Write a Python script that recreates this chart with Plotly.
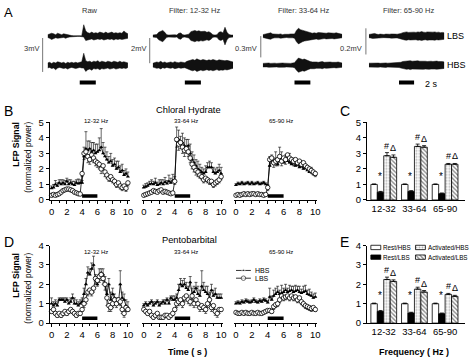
import plotly.graph_objects as go

W, H = 474, 363
FONT = "Liberation Sans, Arial, sans-serif"
TXT = "#000000"

# ---------------- shared sampling grid (s) ----------------
time_s = [round(0.25 * i, 2) for i in range(41)]
stim_s = [4.0, 6.0]

# ---------------- Panel A: trace envelopes (mV) ----------------
raw_lbs_up = [0.12,0.18,0.25,0.2,0.12,0.25,0.18,0.12,0.2,0.15,0.12,0.08,0.04,0.03,0.03,0.03,0.03,0.03,1.0,0.45,
              0.3,0.25,0.35,0.25,0.3,0.25,0.35,0.3,0.25,0.35,0.25,0.3,0.35,0.25,0.3,0.25,0.3,0.25,0.45,0.3,0.2]
raw_lbs_dn = [0.12,0.2,0.3,0.25,0.15,0.2,0.15,0.15,0.12,0.2,0.12,0.08,0.04,0.03,0.03,0.03,0.03,0.03,0.08,0.4,
              0.35,0.3,0.25,0.35,0.3,0.25,0.3,0.25,0.35,0.3,0.25,0.3,0.25,0.35,0.25,0.3,0.25,0.3,0.25,0.25,0.2]
raw_hbs_up = [0.2,0.25,0.15,0.25,0.2,0.3,0.25,0.2,0.25,0.15,0.25,0.2,0.25,0.2,0.25,0.2,0.25,0.3,1.05,0.4,
              0.3,0.35,0.25,0.35,0.3,0.4,0.25,0.35,0.3,0.25,0.35,0.3,0.25,0.35,0.3,0.25,0.35,0.25,0.3,0.25,0.2]
raw_hbs_dn = [0.25,0.2,0.3,0.25,0.4,0.25,0.2,0.25,0.3,0.25,0.35,0.25,0.2,0.25,0.3,0.25,0.2,0.25,0.25,0.55,
              0.4,0.35,0.45,0.3,0.35,0.3,0.4,0.3,0.35,0.3,0.25,0.35,0.3,0.25,0.35,0.3,0.25,0.3,0.25,0.3,0.2]
f1232_lbs = [0.08,0.1,0.12,0.3,0.38,0.45,0.3,0.1,0.08,0.1,0.08,0.1,0.08,0.22,0.25,0.1,0.08,0.1,0.15,0.35,
             0.4,0.45,0.38,0.42,0.36,0.4,0.38,0.3,0.35,0.25,0.1,0.08,0.1,0.3,0.35,0.25,0.7,0.3,0.12,0.08,0.08]
f1232_hbs = [0.15,0.2,0.25,0.22,0.3,0.2,0.25,0.18,0.22,0.25,0.2,0.28,0.22,0.2,0.25,0.22,0.2,0.3,0.35,0.4,
             0.45,0.38,0.5,0.42,0.38,0.45,0.4,0.36,0.42,0.38,0.45,0.4,0.35,0.42,0.38,0.4,0.35,0.38,0.32,0.3,0.25]
f3364_lbs = [0.02,0.025,0.03,0.04,0.045,0.03,0.025,0.02,0.025,0.03,0.02,0.025,0.02,0.025,0.03,0.025,0.03,0.08,0.11,0.09,
             0.08,0.07,0.06,0.05,0.045,0.04,0.045,0.04,0.05,0.045,0.04,0.035,0.04,0.045,0.04,0.035,0.04,0.045,0.035,0.03,0.025]
f3364_hbs = [0.025,0.03,0.025,0.03,0.025,0.03,0.028,0.025,0.03,0.025,0.03,0.028,0.025,0.03,0.025,0.03,0.035,0.07,0.1,0.09,
             0.08,0.085,0.07,0.06,0.05,0.045,0.05,0.045,0.04,0.045,0.05,0.04,0.045,0.04,0.045,0.04,0.035,0.04,0.045,0.035,0.03]
f6590_lbs = [0.012,0.015,0.018,0.02,0.015,0.012,0.015,0.013,0.012,0.015,0.012,0.014,0.016,0.018,0.015,0.014,0.016,0.02,0.026,0.03,
             0.032,0.028,0.03,0.033,0.03,0.028,0.032,0.03,0.034,0.03,0.028,0.032,0.03,0.028,0.03,0.032,0.028,0.03,0.026,0.028,0.025]
f6590_hbs = [0.015,0.016,0.014,0.017,0.015,0.016,0.014,0.016,0.015,0.017,0.015,0.016,0.014,0.016,0.015,0.017,0.018,0.022,0.028,0.03,
             0.032,0.03,0.034,0.03,0.032,0.03,0.033,0.03,0.031,0.032,0.03,0.028,0.032,0.03,0.028,0.03,0.031,0.028,0.03,0.027,0.025]

# ---------------- Panel B: chloral hydrate time courses (normalized power) ----------------
chl_1232_hbs = [0.75,0.8,1.0,0.9,1.1,1.0,1.1,1.0,1.2,1.0,1.1,1.0,0.95,1.1,1.05,1.1,1.1,2.8,3.3,3.2,
                3.3,3.1,3.2,3.0,3.1,3.2,3.4,3.0,2.8,2.6,2.4,2.5,2.2,2.3,2.0,2.1,1.8,1.9,1.6,1.7,1.5]
chl_1232_hbs_err = [0.15,0.2,0.25,0.2,0.2,0.3,0.2,0.25,0.2,0.3,0.2,0.2,0.25,0.2,0.3,0.2,0.15,0.6,1.1,0.6,
                    0.5,0.6,0.5,0.6,0.5,0.8,1.2,0.7,0.6,0.5,0.4,0.5,0.4,0.4,0.5,0.4,0.4,0.4,0.3,0.3,0.3]
chl_1232_lbs = [0.3,0.35,0.3,0.35,0.4,0.5,0.6,0.65,0.7,0.7,0.65,0.6,0.5,0.45,0.4,0.38,1.7,3.0,3.1,2.8,
                2.6,2.9,2.7,2.5,2.4,2.3,2.0,2.2,1.8,1.6,1.4,1.5,1.3,1.2,1.0,1.1,0.9,0.8,0.9,0.75,1.1]
chl_1232_lbs_err = [0.05,0.05,0.05,0.05,0.1,0.1,0.1,0.1,0.1,0.1,0.1,0.1,0.1,0.05,0.05,0.05,0.2,0.4,0.4,0.4,
                    0.3,0.4,0.3,0.3,0.3,0.3,0.3,0.3,0.3,0.2,0.2,0.3,0.2,0.2,0.2,0.2,0.2,0.2,0.2,0.2,0.2]
chl_3364_hbs = [0.8,0.85,0.9,1.0,1.05,1.0,1.1,0.95,1.0,1.1,1.0,1.15,1.05,1.2,1.1,1.25,1.2,3.8,3.9,3.6,
                3.7,3.5,3.4,3.5,3.0,2.6,2.4,2.2,2.0,1.9,1.8,1.7,1.8,2.1,2.1,2.1,1.8,1.7,1.8,1.9,1.7]
chl_3364_hbs_err = [0.15,0.2,0.2,0.2,0.25,0.2,0.3,0.2,0.3,0.2,0.3,0.3,0.2,0.4,0.3,0.4,0.3,0.9,0.6,0.5,
                    0.6,0.5,0.5,0.4,0.6,0.5,0.5,0.4,0.5,0.4,0.3,0.3,0.4,0.3,0.4,0.3,0.3,0.3,0.3,0.4,0.4]
chl_3364_lbs = [0.3,0.35,0.4,0.45,0.5,0.6,0.55,0.5,0.6,0.65,0.5,0.55,0.5,0.45,0.4,0.45,1.2,3.9,3.6,3.7,
                3.4,3.2,3.3,3.1,2.7,2.3,2.1,1.9,1.8,1.6,1.5,1.3,1.4,1.3,1.2,1.2,1.0,1.1,1.2,1.3,1.5]
chl_3364_lbs_err = [0.05,0.05,0.1,0.1,0.1,0.1,0.1,0.1,0.1,0.1,0.1,0.1,0.1,0.1,0.05,0.05,0.2,0.5,0.4,0.4,
                    0.4,0.4,0.3,0.3,0.3,0.3,0.3,0.3,0.3,0.2,0.2,0.2,0.2,0.2,0.2,0.2,0.2,0.2,0.2,0.2,0.2]
chl_6590_hbs = [0.95,1.05,1.0,1.1,1.0,1.05,1.1,1.0,1.1,1.0,1.05,1.1,1.0,1.05,1.1,1.0,0.9,2.2,2.5,2.4,
                2.6,2.3,2.5,2.7,2.4,2.6,2.5,2.4,2.3,2.4,2.2,2.3,2.1,2.2,2.0,2.1,1.9,1.8,1.9,1.7,1.6]
chl_6590_hbs_err = [0.1,0.1,0.1,0.1,0.1,0.1,0.1,0.1,0.1,0.1,0.1,0.1,0.1,0.1,0.1,0.1,0.1,0.6,0.4,0.3,
                    0.5,0.4,0.9,0.4,0.4,0.3,0.4,0.6,0.3,0.3,0.3,0.2,0.3,0.2,0.3,0.2,0.2,0.3,0.2,0.2,0.2]
chl_6590_lbs = [0.3,0.35,0.3,0.35,0.4,0.35,0.4,0.35,0.4,0.4,0.35,0.4,0.35,0.35,0.3,0.35,0.8,2.6,2.7,2.4,
                2.5,2.6,2.8,2.5,2.7,2.6,2.9,2.7,2.6,2.5,2.6,2.4,2.5,2.3,2.4,2.2,2.1,2.0,1.9,1.8,1.7]
chl_6590_lbs_err = [0.05,0.05,0.05,0.05,0.05,0.05,0.05,0.05,0.05,0.05,0.05,0.05,0.05,0.05,0.05,0.05,0.2,0.4,0.3,0.3,
                    0.3,0.4,0.3,0.3,0.3,0.3,0.3,0.3,0.3,0.3,0.3,0.2,0.3,0.2,0.3,0.2,0.2,0.2,0.2,0.2,0.2]

# ---------------- Panel D: pentobarbital time courses ----------------
pen_1232_hbs = [1.0,0.9,1.0,0.9,1.2,1.2,1.2,1.1,1.2,1.0,1.1,1.3,1.0,1.0,0.9,1.0,1.1,1.5,2.0,2.6,
                2.5,2.8,3.0,2.2,2.0,2.5,2.6,2.5,2.0,1.5,2.0,1.2,1.5,1.3,1.1,1.0,2.0,1.3,1.2,0.9,0.8]
pen_1232_hbs_err = [0.3,0.2,0.2,0.2,0.1,0.1,0.1,0.2,0.1,0.2,0.2,0.2,0.3,0.2,0.2,0.2,0.2,0.3,0.3,0.3,
                    0.3,0.3,0.45,0.3,0.3,0.3,0.2,0.3,0.4,0.4,0.3,0.4,0.3,0.2,0.2,0.3,0.7,0.3,0.3,0.3,0.3]
pen_1232_lbs = [0.6,0.7,0.5,0.4,0.5,0.4,0.5,0.6,0.5,0.6,0.7,0.6,0.5,0.4,0.5,0.5,0.7,1.0,1.2,1.6,
                1.7,1.6,1.8,2.3,2.2,2.4,2.5,2.3,2.0,1.3,0.9,0.8,1.0,1.2,1.0,1.2,1.1,0.7,0.5,0.8,0.7]
pen_1232_lbs_err = [0.1,0.1,0.1,0.1,0.1,0.1,0.1,0.1,0.1,0.1,0.1,0.1,0.1,0.1,0.1,0.1,0.1,0.2,0.2,0.2,
                    0.2,0.2,0.2,0.3,0.3,0.3,0.3,0.3,0.3,0.4,0.3,0.2,0.2,0.3,0.2,0.2,0.2,0.2,0.2,0.2,0.1]
pen_3364_hbs = [0.9,1.0,0.9,1.0,1.1,0.9,1.0,1.1,0.9,1.0,1.1,1.0,1.2,1.0,1.3,1.2,1.2,1.3,1.7,2.0,
                1.9,2.0,1.8,1.7,2.1,1.5,1.6,1.8,1.5,1.4,1.9,1.7,1.6,1.5,1.3,1.7,1.4,1.5,1.3,1.3,1.3]
pen_3364_hbs_err = [0.1,0.1,0.1,0.1,0.1,0.2,0.1,0.1,0.2,0.1,0.1,0.2,0.1,0.2,0.1,0.2,0.2,0.2,0.3,0.3,
                    0.3,0.3,0.3,0.2,0.3,0.3,0.3,0.3,0.4,0.3,0.8,0.4,0.3,0.4,0.3,0.3,0.3,0.3,0.2,0.2,0.2]
pen_3364_lbs = [0.7,0.6,0.5,0.6,0.4,0.3,0.4,0.5,0.3,0.3,0.3,0.4,0.4,0.3,0.4,0.5,0.7,1.0,1.1,1.2,
                1.0,1.3,1.4,1.2,1.1,1.4,1.0,1.2,1.0,0.8,0.9,0.8,0.7,1.0,1.2,0.8,0.9,0.6,0.5,0.7,0.7]
pen_3364_lbs_err = [0.1,0.1,0.1,0.1,0.1,0.1,0.1,0.1,0.1,0.1,0.1,0.1,0.1,0.1,0.1,0.1,0.1,0.2,0.2,0.2,
                    0.2,0.2,0.2,0.2,0.2,0.2,0.2,0.2,0.2,0.2,0.2,0.2,0.2,0.2,0.2,0.2,0.2,0.2,0.2,0.2,0.1]
pen_6590_hbs = [1.0,1.05,1.0,1.1,1.05,1.15,1.1,1.05,1.1,1.2,1.1,1.05,1.15,1.1,1.2,1.15,1.05,1.35,1.2,1.4,
                1.5,1.6,1.5,1.55,1.6,1.7,1.6,1.65,1.7,1.6,1.65,1.7,1.6,1.55,1.6,1.65,1.5,1.45,1.4,1.3,1.35]
pen_6590_hbs_err = [0.1,0.1,0.1,0.1,0.1,0.1,0.1,0.1,0.1,0.1,0.1,0.1,0.1,0.1,0.1,0.1,0.1,0.45,0.2,0.3,
                    0.3,0.3,0.2,0.4,0.2,0.3,0.2,0.3,0.2,0.3,0.3,0.2,0.3,0.2,0.3,0.3,0.2,0.3,0.2,0.2,0.2]
pen_6590_lbs = [0.55,0.5,0.5,0.55,0.5,0.55,0.5,0.5,0.55,0.5,0.5,0.55,0.5,0.5,0.55,0.6,0.65,0.65,0.6,0.85,
                0.95,1.0,1.2,1.4,1.3,1.35,1.4,1.3,1.4,1.3,1.35,1.2,1.3,1.1,1.0,0.9,0.85,0.8,0.75,0.8,0.7]
pen_6590_lbs_err = [0.05,0.05,0.05,0.05,0.05,0.05,0.05,0.05,0.05,0.05,0.05,0.05,0.05,0.05,0.05,0.05,0.1,0.1,0.1,0.15,
                    0.15,0.15,0.15,0.15,0.15,0.15,0.15,0.15,0.15,0.15,0.15,0.15,0.15,0.15,0.15,0.15,0.15,0.15,0.15,0.15,0.1]

# ---------------- Panels C / E: group means ----------------
freq_bands = ["12-32", "33-64", "65-90"]
chl_rest_hbs = [1.0, 1.0, 1.0]
chl_rest_lbs = [0.5, 0.55, 0.4]
chl_act_hbs = [2.85, 3.45, 2.3]
chl_act_lbs = [2.75, 3.4, 2.3]
chl_rest_hbs_err = [0.03, 0.03, 0.03]
chl_rest_lbs_err = [0.05, 0.05, 0.05]
chl_act_hbs_err = [0.2, 0.15, 0.05]
chl_act_lbs_err = [0.15, 0.1, 0.05]
pen_rest_hbs = [1.0, 1.0, 1.0]
pen_rest_lbs = [0.6, 0.52, 0.48]
pen_act_hbs = [2.25, 1.75, 1.48]
pen_act_lbs = [2.15, 1.6, 1.38]
pen_rest_hbs_err = [0.03, 0.03, 0.03]
pen_rest_lbs_err = [0.05, 0.04, 0.04]
pen_act_hbs_err = [0.12, 0.1, 0.05]
pen_act_lbs_err = [0.08, 0.08, 0.05]

# ======================================================================
def dom_x(a, b):
    return [a / W, b / W]

def dom_y(top, bottom):
    return [1 - bottom / H, 1 - top / H]

fig = go.Figure()
layout = dict(width=W, height=H, margin=dict(l=0, r=0, t=0, b=0), autosize=False,
              paper_bgcolor="white", plot_bgcolor="rgba(0,0,0,0)", showlegend=False,
              barmode="group", bargap=0.16, bargroupgap=0, hovermode=False,
              font=dict(family=FONT, size=9, color=TXT))
shapes = []
annotations = []

def ann(text, x, y, size, xanchor="center", yanchor="middle", angle=0, color=TXT):
    annotations.append(dict(text=text, x=x / W, y=1 - y / H, xref="paper", yref="paper",
                            showarrow=False, xanchor=xanchor, yanchor=yanchor, textangle=angle,
                            font=dict(size=size, color=color, family=FONT)))

# ---------------- Panel A ----------------
A_TOP, A_BOT = 14, 82
A_cols = [
    # title, x0, x1, scale mV, scale px, bar x, bar top, label, lbs up, lbs dn, hbs up, hbs dn
    ("Raw", 47, 128, 3, 35, 42, 33, "3mV", raw_lbs_up, raw_lbs_dn, raw_hbs_up, raw_hbs_dn),
    ("Filter: 12-32 Hz", 153, 234, 2, 26, 150, 33, "2mV", f1232_lbs, f1232_lbs, f1232_hbs, f1232_hbs),
    ("Filter: 33-64 Hz", 264, 344, 0.3, 22, 262, 31, "0.3mV", f3364_lbs, f3364_lbs, f3364_hbs, f3364_hbs),
    ("Filter: 65-90 Hz", 371, 447, 0.2, 27, 368, 23, "0.2mV", f6590_lbs, f6590_lbs, f6590_hbs, f6590_hbs),
]
for i, (title, x0, x1, smv, spx, bx, btop, lab, lu, ld, hu, hd) in enumerate(A_cols):
    k = i + 1
    ppm = spx / smv
    layout[f"xaxis{k}"] = dict(domain=dom_x(x0, x1), range=[0, 10], visible=False, anchor=f"y{k}")
    layout[f"yaxis{k}"] = dict(domain=dom_y(A_TOP, A_BOT), range=[0, (A_BOT - A_TOP) / ppm],
                               visible=False, anchor=f"x{k}")
    for center_px, up, dn in ((31, lu, ld), (61, hu, hd)):
        c = (A_BOT - center_px) / ppm
        xs = time_s + time_s[::-1]
        ys = [c + u for u in up] + [c - d for d in dn][::-1]
        fig.add_trace(go.Scatter(x=xs, y=ys, mode="lines", fill="toself", fillcolor="#111",
                                 line=dict(color="#111", width=0.5), xaxis=f"x{k}", yaxis=f"y{k}",
                                 hoverinfo="skip"))
    bar_y = (A_BOT - 79) / ppm
    fig.add_trace(go.Scatter(x=stim_s, y=[bar_y, bar_y], mode="lines", line=dict(color="black", width=4),
                             xaxis=f"x{k}", yaxis=f"y{k}", hoverinfo="skip"))
    shapes.append(dict(type="line", xref="paper", yref="paper", x0=bx / W, x1=bx / W,
                       y0=1 - btop / H, y1=1 - (btop + spx) / H, line=dict(color="#777", width=1)))
    ann(lab, bx - 2, 44, 7.5, xanchor="right", color="#333")
    ann(title, (x0 + x1) / 2 + 2, 4.5, 7.5, color="#333")

ann("LBS", 448, 31, 9, xanchor="left")
ann("HBS", 448, 61, 9, xanchor="left")
ann("2 s", 426, 80, 9, xanchor="left")

# ---------------- Panels B and D ----------------
tick_font = dict(size=9.5, family=FONT, color=TXT)
col_px = [(51, 128), (144, 222), (237, 317)]
tc_sets = [
    # first axis index, top px, bottom px, ymax, series
    (5, 120, 200, 5, [(chl_1232_hbs, chl_1232_hbs_err, chl_1232_lbs, chl_1232_lbs_err),
                      (chl_3364_hbs, chl_3364_hbs_err, chl_3364_lbs, chl_3364_lbs_err),
                      (chl_6590_hbs, chl_6590_hbs_err, chl_6590_lbs, chl_6590_lbs_err)]),
    (9, 247, 327, 4, [(pen_1232_hbs, pen_1232_hbs_err, pen_1232_lbs, pen_1232_lbs_err),
                      (pen_3364_hbs, pen_3364_hbs_err, pen_3364_lbs, pen_3364_lbs_err),
                      (pen_6590_hbs, pen_6590_hbs_err, pen_6590_lbs, pen_6590_lbs_err)]),
]
zeros = [0] * len(time_s)
for k0, top, bot, ymax, series in tc_sets:
    for j, (hbs, hbs_e, lbs, lbs_e) in enumerate(series):
        k = k0 + j
        x0, x10 = col_px[j]
        pps = (x10 - x0) / 10
        layout[f"xaxis{k}"] = dict(domain=dom_x(x0 - 0.25 * pps, x10 + 0.25 * pps), range=[-0.25, 10.25],
                                   anchor=f"y{k}", showline=True, linecolor="black", linewidth=1,
                                   ticks="outside", ticklen=3, tickwidth=1, tickcolor="black",
                                   tickmode="linear", tick0=0, dtick=2, tickfont=tick_font,
                                   showgrid=False, zeroline=False,
                                   minor=dict(ticks="outside", ticklen=2, dtick=1, tick0=0,
                                              tickcolor="black", showgrid=False))
        ya = dict(domain=dom_y(top, bot), range=[0, ymax], anchor=f"x{k}", showgrid=False, zeroline=False)
        if j == 0:
            ya.update(showline=True, linecolor="black", linewidth=1, ticks="outside", ticklen=3,
                      tickcolor="black", tickmode="linear", tick0=0, dtick=1, tickfont=tick_font)
        else:
            ya.update(visible=False)
        layout[f"yaxis{k}"] = ya
        fig.add_trace(go.Scatter(x=time_s, y=hbs, mode="lines+markers", cliponaxis=False,
                                 line=dict(color="black", width=0.8),
                                 marker=dict(symbol="triangle-up", size=3.5, color="black"),
                                 error_y=dict(type="data", symmetric=False, array=hbs_e, arrayminus=zeros,
                                              color="black", thickness=0.6, width=1.5),
                                 xaxis=f"x{k}", yaxis=f"y{k}", hoverinfo="skip"))
        fig.add_trace(go.Scatter(x=time_s, y=lbs, mode="lines+markers", cliponaxis=False,
                                 line=dict(color="black", width=0.8),
                                 marker=dict(symbol="circle", size=4.5, color="white",
                                             line=dict(color="black", width=0.8)),
                                 error_y=dict(type="data", symmetric=False, array=zeros, arrayminus=lbs_e,
                                              color="black", thickness=0.6, width=1.5),
                                 xaxis=f"x{k}", yaxis=f"y{k}", hoverinfo="skip"))
        fig.add_trace(go.Scatter(x=stim_s, y=[0.25, 0.25], mode="lines", line=dict(color="black", width=3.5),
                                 xaxis=f"x{k}", yaxis=f"y{k}", hoverinfo="skip"))

# ---------------- Panels C and E ----------------
BW = (1 - 0.16) / 4
bar_sets = [
    (8, 120, 200, 5, chl_rest_hbs, chl_rest_lbs, chl_act_hbs, chl_act_lbs,
     chl_rest_hbs_err, chl_rest_lbs_err, chl_act_hbs_err, chl_act_lbs_err),
    (12, 247, 327, 4, pen_rest_hbs, pen_rest_lbs, pen_act_hbs, pen_act_lbs,
     pen_rest_hbs_err, pen_rest_lbs_err, pen_act_hbs_err, pen_act_lbs_err),
]
line_k = dict(color="black", width=0.8)
styles = [
    dict(color="white", line=line_k),
    dict(color="black", line=line_k),
    dict(color="white", line=line_k, pattern=dict(shape=".", fgcolor="#666", size=3, solidity=0.35)),
    dict(color="white", line=line_k, pattern=dict(shape="\\", fgcolor="#111", size=3, solidity=0.45)),
]
for k, top, bot, ymax, rh, rl, ah, al, rhe, rle, ahe, ale in bar_sets:
    layout[f"xaxis{k}"] = dict(domain=dom_x(369, 468), type="category", range=[-0.55, 2.65],
                               anchor=f"y{k}", showline=True, linecolor="black", linewidth=1,
                               ticks="", tickfont=tick_font, showgrid=False, zeroline=False)
    layout[f"yaxis{k}"] = dict(domain=dom_y(top, bot), range=[0, ymax], anchor=f"x{k}",
                               showline=True, linecolor="black", linewidth=1, ticks="outside", ticklen=3,
                               tickcolor="black", tickmode="linear", tick0=0, dtick=1,
                               tickfont=tick_font, showgrid=False, zeroline=False)
    for vals, errs, st in zip((rh, rl, ah, al), (rhe, rle, ahe, ale), styles):
        fig.add_trace(go.Bar(x=freq_bands, y=vals, marker=st, xaxis=f"x{k}", yaxis=f"y{k}",
                             error_y=dict(type="data", symmetric=False, array=errs, arrayminus=[0, 0, 0],
                                          color="black", thickness=0.8, width=2),
                             hoverinfo="skip"))
    for i in range(3):
        annotations.append(dict(text="*", x=i - 0.5 * BW - 0.03, y=rh[i] + rhe[i], xref=f"x{k}", yref=f"y{k}",
                                showarrow=False, yanchor="bottom", font=dict(size=10, family=FONT, color=TXT)))
        annotations.append(dict(text="#", x=i + 0.5 * BW, y=ah[i] + ahe[i], xref=f"x{k}", yref=f"y{k}",
                                showarrow=False, yanchor="bottom", font=dict(size=9, family=FONT, color=TXT)))
        annotations.append(dict(text="Δ", x=i + 1.5 * BW, y=al[i] + ale[i], xref=f"x{k}", yref=f"y{k}",
                                showarrow=False, yanchor="bottom", font=dict(size=9, family=FONT, color=TXT)))

# ---------------- overlay axis (pixel units) for legend keys ----------------
layout["xaxis13"] = dict(domain=[0, 1], range=[0, W], visible=False, anchor="y13")
layout["yaxis13"] = dict(domain=[0, 1], range=[H, 0], visible=False, anchor="x13")
leg_line_x = [237, 244.5, 252]
fig.add_trace(go.Scatter(x=leg_line_x, y=[272.7] * 3, mode="lines+markers", line=dict(color="black", width=0.8),
                         marker=dict(symbol="triangle-up", size=[0, 3.5, 0], color="black"),
                         xaxis="x13", yaxis="y13", hoverinfo="skip"))
fig.add_trace(go.Scatter(x=leg_line_x, y=[280.7] * 3, mode="lines+markers", line=dict(color="black", width=0.8),
                         marker=dict(symbol="circle", size=[0, 4.5, 0], color="white",
                                     line=dict(color="black", width=0.8)),
                         xaxis="x13", yaxis="y13", hoverinfo="skip"))
ann("HBS", 254, 272.7, 7, xanchor="left")
ann("LBS", 254, 280.7, 7, xanchor="left")
for (bx, by, st, lab) in ((373, 249, styles[0], "Rest/HBS"), (373, 259, styles[1], "Rest/LBS"),
                          (418, 249, styles[2], "Activated/HBS"), (418, 259, styles[3], "Activated/LBS")):
    fig.add_trace(go.Bar(x=[10], base=[bx], y=[by], orientation="h", width=[4.5], offset=[-2.25],
                         marker=st, xaxis="x13", yaxis="y13", hoverinfo="skip"))
    ann(lab, bx + 10.5, by, 6.3, xanchor="left")

# ---------------- text ----------------
ann("A", 1, 7, 13, xanchor="left")
ann("B", 1, 108, 14, xanchor="left")
ann("C", 340, 108, 14, xanchor="left")
ann("D", 1, 243, 14, xanchor="left")
ann("E", 340, 243, 14, xanchor="left")
ann("Chloral Hydrate", 189, 107, 9.3)
ann("Pentobarbital", 190, 241, 9.3)
for yy in (119, 254):
    ann("12-32 Hz", 96, yy, 6)
    ann("33-64 Hz", 187, yy, 6)
    ann("65-90 Hz", 282, yy, 6)
for top in (117, 252):
    ann("<b>LFP Signal</b>", 15, top, 8.7, yanchor="top", angle=-90)
    ann("(normalized power)", 27, top, 8.3, yanchor="top", angle=-90)
ann("<b>Time ( s )</b>", 188, 357, 9)
ann("<b>Frequency ( Hz )</b>", 417, 357, 9)

layout["shapes"] = shapes
layout["annotations"] = annotations
fig.update_layout(**layout)
fig.write_html("out.html", config={"staticPlot": True, "displayModeBar": False},
               post_script="document.body.style.margin='0';document.body.style.overflow='hidden';")
